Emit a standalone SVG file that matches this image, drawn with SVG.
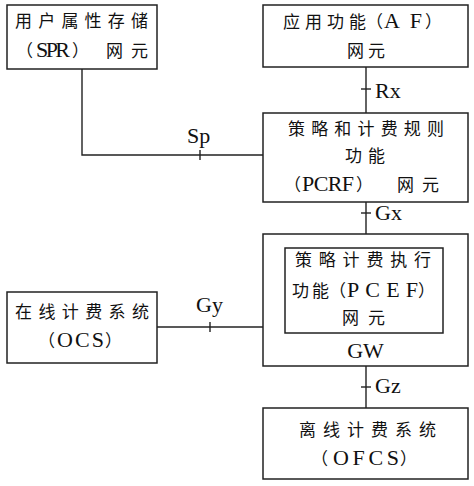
<svg xmlns="http://www.w3.org/2000/svg" width="474" height="486" viewBox="0 0 474 486">
<style>
rect{fill:#fff;stroke:#222;stroke-width:1.5}
.c line,.c polyline{stroke:#222;stroke-width:1.4;fill:none}
text{font-family:"Liberation Serif","Noto Sans CJK SC",serif;font-size:17px;fill:#111}
.l{font-size:22px}
.e{font-size:22px}
</style>
<rect x="0" y="0" width="474" height="486" style="stroke:none"/>
<g class="c" id="connectors">
<polyline points="82,69 82,155 263,155"/>
<line x1="200" y1="150" x2="200" y2="160"/>
<text class="l" x="187" y="143">Sp</text>
<line x1="366" y1="67" x2="366" y2="113"/>
<line x1="361" y1="89" x2="371" y2="89"/>
<text class="l" x="375" y="98">Rx</text>
<line x1="366" y1="202" x2="366" y2="234"/>
<line x1="361" y1="213" x2="371" y2="213"/>
<text class="l" x="375" y="220">Gx</text>
<line x1="157" y1="327" x2="263" y2="327"/>
<line x1="210" y1="322" x2="210" y2="332"/>
<text class="l" x="196" y="312">Gy</text>
<line x1="366" y1="366" x2="366" y2="408"/>
<line x1="361" y1="387" x2="371" y2="387"/>
<text class="l" x="375" y="393">Gz</text>
</g>
<g id="spr">
<rect x="7" y="5" width="150" height="64"/>
<text x="15" y="27" textLength="133" lengthAdjust="spacing">用户属性存储</text>
<text y="57"><tspan x="16">（</tspan><tspan class="e" x="36" textLength="34" lengthAdjust="spacing">SPR</tspan><tspan x="72">）</tspan><tspan x="106" textLength="42" lengthAdjust="spacing">网元</tspan></text>
</g>
<g id="af">
<rect x="263" y="5" width="205" height="62"/>
<text y="28"><tspan x="283" textLength="83" lengthAdjust="spacing">应用功能</tspan><tspan x="366">（</tspan><tspan class="e" x="384" textLength="38" lengthAdjust="spacing">AF</tspan><tspan x="425">）</tspan></text>
<text x="347" y="57" textLength="38" lengthAdjust="spacing">网元</text>
</g>
<g id="pcrf">
<rect x="263" y="113" width="205" height="89"/>
<text x="288" y="135" textLength="156" lengthAdjust="spacing">策略和计费规则</text>
<text x="345" y="162" textLength="40" lengthAdjust="spacing">功能</text>
<text y="191"><tspan x="284">（</tspan><tspan class="e" x="302" textLength="52" lengthAdjust="spacing">PCRF</tspan><tspan x="356">）</tspan><tspan x="397" textLength="42" lengthAdjust="spacing">网元</tspan></text>
</g>
<g id="gw">
<rect x="263" y="234" width="205" height="132"/>
<text class="l" x="365.5" y="358" text-anchor="middle">GW</text>
</g>
<g id="pcef">
<rect x="285" y="248" width="158" height="85"/>
<text x="295" y="266" textLength="136" lengthAdjust="spacing">策略计费执行</text>
<text y="297"><tspan x="292" textLength="37" lengthAdjust="spacing">功能</tspan><tspan x="329">（</tspan><tspan class="e" x="347" textLength="71" lengthAdjust="spacing">PCEF</tspan><tspan x="418">）</tspan></text>
<text x="342" y="324" textLength="43" lengthAdjust="spacing">网元</text>
</g>
<g id="ocs">
<rect x="7" y="292" width="150" height="71"/>
<text x="15" y="318" textLength="134" lengthAdjust="spacing">在线计费系统</text>
<text y="347"><tspan x="38">（</tspan><tspan class="e" x="57" textLength="47" lengthAdjust="spacing">OCS</tspan><tspan x="105">）</tspan></text>
</g>
<g id="ofcs">
<rect x="263" y="408" width="205" height="71"/>
<text x="299" y="436" textLength="137" lengthAdjust="spacing">离线计费系统</text>
<text y="465"><tspan x="311">（</tspan><tspan class="e" x="333" textLength="66" lengthAdjust="spacing">OFCS</tspan><tspan x="400">）</tspan></text>
</g>
</svg>
